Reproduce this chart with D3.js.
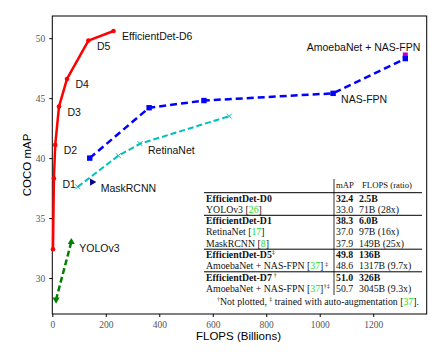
<!DOCTYPE html>
<html>
<head>
<meta charset="utf-8">
<script src="https://cdn.jsdelivr.net/npm/d3@7"></script>
<style>
  body { margin: 0; background: #fff; }
  svg { display: block; }
</style>
</head>
<body>
<div id="chart"></div>
<script>
// FLOPS (billions) vs COCO mAP
const effFlops = [2.5, 6.0, 11, 25, 55, 135, 229];
const effMap = [32.4, 38.3, 41.1, 44.3, 46.6, 49.8, 50.6];
const effLabels = ["", "D1", "D2", "D3", "D4", "D5", "EfficientDet-D6"];

const nasFlops = [140, 362, 567, 1050, 1320];
const nasMap = [40.0, 44.2, 44.8, 45.4, 48.3];

const retinaFlops = [95, 247, 328, 662];
const retinaMap = [37.6, 40.2, 41.2, 43.5];

const maskFlops = [149];
const maskMap = [38.0];

const yoloFlops = [71, 14];
const yoloMap = [33.0, 28.2];

const amoebaFlops = [1320];
const amoebaMap = [48.6];

const xTicks = [0, 200, 400, 600, 800, 1000, 1200];
const yTicks = [30, 35, 40, 45, 50];

// table
const tableNames = ["EfficientDet-D0", "YOLOv3", "EfficientDet-D1", "RetinaNet", "MaskRCNN",
  "EfficientDet-D5", "AmoebaNet + NAS-FPN", "EfficientDet-D7", "AmoebaNet + NAS-FPN"];
const tableCites = ["", "26", "", "17", "8", "", "37", "", "37"];
const tableMarks = ["", "", "", "", "", "‡", " ‡", " †", "†‡"];
const tableMap = ["32.4", "33.0", "38.3", "37.0", "37.9", "49.8", "48.6", "51.0", "50.7"];
const tableFlops = ["2.5B", "71B (28x)", "6.0B", "97B (16x)", "149B (25x)", "136B", "1317B (9.7x)", "326B", "3045B (9.3x)"];
const tableBold = [true, false, true, false, false, true, false, true, false];
const groupStarts = [0, 2, 5, 7];

const W = 441, H = 353;
const mLeft = 52.3, mRight = 426.7, mTop = 16, mBottom = 314;

const svg = d3.select('#chart').append('svg')
  .attr('width', W)
  .attr('height', H);

const x = d3.scaleLinear().domain([0, 1400]).range([mLeft, mRight]);
const y = d3.scaleLinear().domain([27, 51.85]).range([mBottom, mTop]);

const serif = '"Liberation Serif", "DejaVu Serif", serif';
const sans = '"Liberation Sans", Arial, sans-serif';

// axes
const xAxis = svg.append('g')
  .attr('transform', `translate(0,${mBottom})`)
  .call(d3.axisBottom(x).tickValues(xTicks).tickFormat(d3.format('d')).tickSize(3).tickPadding(4));
const yAxis = svg.append('g')
  .attr('transform', `translate(${mLeft},0)`)
  .call(d3.axisLeft(y).tickValues(yTicks).tickSize(3).tickPadding(4));
[xAxis, yAxis].forEach(a => {
  a.select('.domain').remove();
  a.selectAll('text').attr('font-family', serif).attr('font-size', 9.5).attr('fill', '#555');
  a.selectAll('line').attr('stroke', '#000');
});

svg.append('rect')
  .attr('x', mLeft).attr('y', mTop)
  .attr('width', mRight - mLeft).attr('height', mBottom - mTop)
  .attr('fill', 'none').attr('stroke', '#000').attr('stroke-width', 1);

svg.append('text')
  .attr('x', (mLeft + mRight) / 2 - 1).attr('y', 340)
  .attr('text-anchor', 'middle')
  .attr('font-family', sans).attr('font-size', 11.5)
  .text('FLOPS (Billions)');

svg.append('text')
  .attr('transform', `translate(31,${(mTop + mBottom) / 2}) rotate(-90)`)
  .attr('text-anchor', 'middle')
  .attr('font-family', sans).attr('font-size', 11.5)
  .text('COCO mAP');

const line = d3.line().x(d => x(d[0])).y(d => y(d[1]));
const pts = (xs, ys) => xs.map((v, i) => [v, ys[i]]);

function series(xs, ys, color, width, dash) {
  svg.append('path')
    .datum(pts(xs, ys))
    .attr('d', line)
    .attr('fill', 'none')
    .attr('stroke', color)
    .attr('stroke-width', width)
    .attr('stroke-dasharray', dash)
    .attr('stroke-linejoin', 'round');
}

function label(px, py, txt, dx, dy, anchor) {
  svg.append('text')
    .attr('x', x(px) + dx).attr('y', y(py) + dy)
    .attr('dy', '0.35em')
    .attr('text-anchor', anchor || 'start')
    .attr('font-family', sans).attr('font-size', 10.5)
    .attr('fill', '#111')
    .text(txt);
}

// YOLOv3
series(yoloFlops, yoloMap, '#008000', 2.5, '6,3');
svg.selectAll('.yolo').data(pts(yoloFlops, yoloMap)).enter().append('path')
  .attr('transform', (d, i) => `translate(${x(d[0])},${y(d[1])}) rotate(${i === 0 ? 0 : 180})`)
  .attr('d', d3.symbol(d3.symbolTriangle, 22))
  .attr('fill', '#008000');

// RetinaNet
series(retinaFlops, retinaMap, '#00bfbf', 2, '6,3');
pts(retinaFlops, retinaMap).forEach(d => {
  const cx = x(d[0]), cy = y(d[1]);
  svg.append('path')
    .attr('d', `M${cx - 2.5},${cy - 2.5}L${cx + 2.5},${cy + 2.5}M${cx - 2.5},${cy + 2.5}L${cx + 2.5},${cy - 2.5}`)
    .attr('stroke', '#00bfbf').attr('stroke-width', 1);
});

// NAS-FPN
series(nasFlops, nasMap, '#0000ff', 2.5, '7,4');
svg.selectAll('.amoeba').data(pts(amoebaFlops, amoebaMap)).enter().append('rect')
  .attr('x', d => x(d[0]) - 2.5).attr('y', d => y(d[1]) - 2.5)
  .attr('width', 5).attr('height', 5)
  .attr('fill', '#bf00bf');
svg.selectAll('.nas').data(pts(nasFlops, nasMap)).enter().append('rect')
  .attr('x', d => x(d[0]) - 2.7).attr('y', d => y(d[1]) - 2.7)
  .attr('width', 5.4).attr('height', 5.4)
  .attr('fill', '#0000ff');

// MaskRCNN
svg.selectAll('.mask').data(pts(maskFlops, maskMap)).enter().append('path')
  .attr('transform', d => `translate(${x(d[0])},${y(d[1])}) rotate(90)`)
  .attr('d', d3.symbol(d3.symbolTriangle, 22))
  .attr('fill', '#00008b');

// EfficientDet
series(effFlops, effMap, '#ff0000', 2.5, null);
svg.selectAll('.eff').data(pts(effFlops, effMap)).enter().append('circle')
  .attr('cx', d => x(d[0])).attr('cy', d => y(d[1]))
  .attr('r', 2.3).attr('fill', '#ff0000');

effLabels.forEach((t, i) => { if (t) label(effFlops[i], effMap[i], t, 8.5, 5.5); });
label(retinaFlops[2], retinaMap[2], 'RetinaNet', 8, 7);
label(maskFlops[0], maskMap[0], 'MaskRCNN', 8.5, 6.5);
label(yoloFlops[0], yoloMap[0], 'YOLOv3', 8, 6.5);
label(nasFlops[3], nasMap[3], 'NAS-FPN', 8, 6);
label(amoebaFlops[0], amoebaMap[0], 'AmoebaNet + NAS-FPN', 15, -8, 'end');

// table
const tbl = svg.append('g').attr('font-family', serif).attr('font-size', 9.8).attr('fill', '#111');
const colName = 206, colMap = 336, colFlops = 359, ruleL = 204, ruleR = 422, vLine = 334;
const rowY = i => 201.5 + i * 11.3;

tbl.append('text').attr('x', colMap).attr('y', 188).attr('font-size', 8.7).text('mAP');
tbl.append('text').attr('x', colFlops + 3).attr('y', 188).attr('font-size', 8.7).text('FLOPS (ratio)');

groupStarts.forEach(i => {
  tbl.append('line')
    .attr('x1', ruleL).attr('x2', ruleR)
    .attr('y1', rowY(i) - 8.8).attr('y2', rowY(i) - 8.8)
    .attr('stroke', '#000').attr('stroke-width', 1);
});
tbl.append('line')
  .attr('x1', vLine).attr('x2', vLine)
  .attr('y1', 179).attr('y2', 295)
  .attr('stroke', '#000').attr('stroke-width', 0.8);

tableNames.forEach((n, i) => {
  const t = tbl.append('text').attr('x', colName).attr('y', rowY(i))
    .attr('font-weight', tableBold[i] ? 'bold' : 'normal');
  t.append('tspan').text(n);
  if (tableCites[i]) {
    t.append('tspan').text(' [');
    t.append('tspan').attr('fill', '#22dd22').text(tableCites[i]);
    t.append('tspan').text(']');
  }
  if (tableMarks[i]) {
    t.append('tspan').attr('font-size', 6.5).attr('dy', -3.8).attr('font-weight', 'normal').text(tableMarks[i]);
  }
  tbl.append('text').attr('x', colMap).attr('y', rowY(i))
    .attr('font-weight', tableBold[i] ? 'bold' : 'normal').text(tableMap[i]);
  tbl.append('text').attr('x', colFlops).attr('y', rowY(i))
    .attr('font-weight', tableBold[i] ? 'bold' : 'normal').text(tableFlops[i]);
});

const foot = tbl.append('text').attr('x', 318).attr('y', 304.5).attr('text-anchor', 'middle');
foot.append('tspan').attr('font-size', 6).attr('dy', -3.2).text('†');
foot.append('tspan').attr('dy', 3.2).text('Not plotted, ');
foot.append('tspan').attr('font-size', 6).attr('dy', -3.2).text('‡');
foot.append('tspan').attr('dy', 3.2).text(' trained with auto-augmentation [');
foot.append('tspan').attr('fill', '#22dd22').text('37');
foot.append('tspan').text('].');
</script>
</body>
</html>
